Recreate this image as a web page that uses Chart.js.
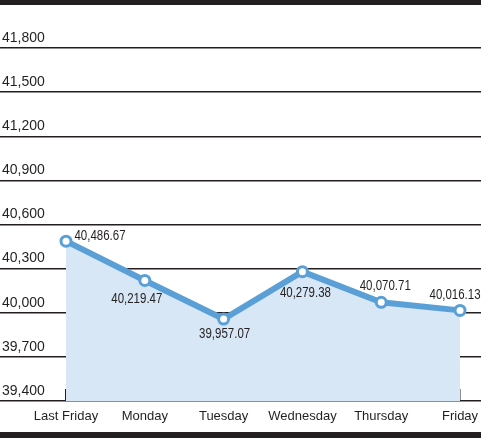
<!DOCTYPE html>
<html>
<head>
<meta charset="utf-8">
<script src="https://cdn.jsdelivr.net/npm/chart.js@4/dist/chart.umd.min.js"></script>
<style>
  html, body { margin: 0; padding: 0; background: #fff; }
  #frame { width: 481px; height: 438px; box-sizing: border-box; border-top: 5px solid #231f20; border-bottom: 6px solid #231f20; }
  #wrap { position: relative; width: 481px; height: 427px; }
</style>
</head>
<body>
<div id="frame"><div id="wrap"><canvas id="myChart"></canvas></div></div>
<script>
var days = ['Last Friday', 'Monday', 'Tuesday', 'Wednesday', 'Thursday', 'Friday'];
var closes = [40486.67, 40219.47, 39957.07, 40279.38, 40070.71, 40016.13];
var yTicks = [39400, 39700, 40000, 40300, 40600, 40900, 41200, 41500, 41800];

var font = "'Liberation Sans', Arial, sans-serif";
var ink = '#231f20';

// where each value label sits relative to its point
var labelShift = [[34, -5], [-8, 19], [1, 15], [3, 21], [4, -16], [-5, -15]];

var valueLabels = {
    id: 'valueLabels',
    afterDatasetsDraw: function(chart) {
        var ctx = chart.ctx;
        var meta = chart.getDatasetMeta(0);
        ctx.font = '14px ' + font;
        ctx.fillStyle = ink;
        ctx.textAlign = 'center';
        ctx.textBaseline = 'middle';
        meta.data.forEach(function(pt, i) {
            var txt = closes[i].toLocaleString('en-US', {minimumFractionDigits: 2, maximumFractionDigits: 2});
            ctx.save();
            // squeeze the text, the original uses a condensed face
            ctx.translate(pt.x + labelShift[i][0], pt.y + labelShift[i][1]);
            ctx.scale(0.82, 1);
            ctx.fillText(txt, 0, 0);
            ctx.restore();
        });
    }
};

var ctx = document.getElementById('myChart').getContext('2d');
var chart = new Chart(ctx, {
    type: 'line',
    data: {
        datasets: [{
            data: closes.map(function(v, i) { return {x: i, y: v}; }),
            borderColor: '#5a9fd6',
            borderWidth: 6,
            backgroundColor: '#d8e7f6',
            fill: 'start',
            tension: 0,
            pointRadius: 5,
            pointBorderWidth: 3,
            pointBackgroundColor: '#ffffff',
            pointBorderColor: '#5a9fd6'
        }]
    },
    options: {
        responsive: true,
        maintainAspectRatio: false,
        animation: false,
        layout: { autoPadding: false, padding: { top: 43, left: 0, right: 0, bottom: 0 } },
        plugins: {
            legend: { display: false },
            tooltip: { enabled: false }
        },
        scales: {
            x: {
                type: 'linear',
                min: -0.8376,
                max: 5.266,
                afterBuildTicks: function(scale) {
                    scale.ticks = days.map(function(d, i) { return {value: i}; });
                },
                afterFit: function(scale) {
                    scale.height = 31;
                    scale.paddingLeft = 0;
                    scale.paddingRight = 0;
                },
                border: { display: false },
                grid: {
                    drawOnChartArea: false,
                    drawTicks: true,
                    tickLength: -12,
                    color: ink,
                    lineWidth: 1.5
                },
                ticks: {
                    padding: 20,
                    color: ink,
                    font: { family: font, size: 13 },
                    maxRotation: 0,
                    callback: function(v) { return days[v]; }
                }
            },
            y: {
                min: yTicks[0],
                max: yTicks[yTicks.length - 1],
                afterBuildTicks: function(scale) {
                    scale.ticks = yTicks.map(function(v) { return {value: v}; });
                },
                afterFit: function(scale) {
                    scale.width = 0;
                    scale.paddingTop = 0;
                    scale.paddingBottom = 0;
                },
                border: { display: false },
                grid: {
                    drawTicks: false,
                    color: ink,
                    lineWidth: 1.5
                },
                ticks: {
                    mirror: true,
                    padding: 2,
                    labelOffset: -10,
                    color: ink,
                    font: { family: font, size: 14 },
                    callback: function(v) { return v.toLocaleString('en-US'); }
                }
            }
        }
    },
    plugins: [valueLabels]
});
</script>
</body>
</html>
